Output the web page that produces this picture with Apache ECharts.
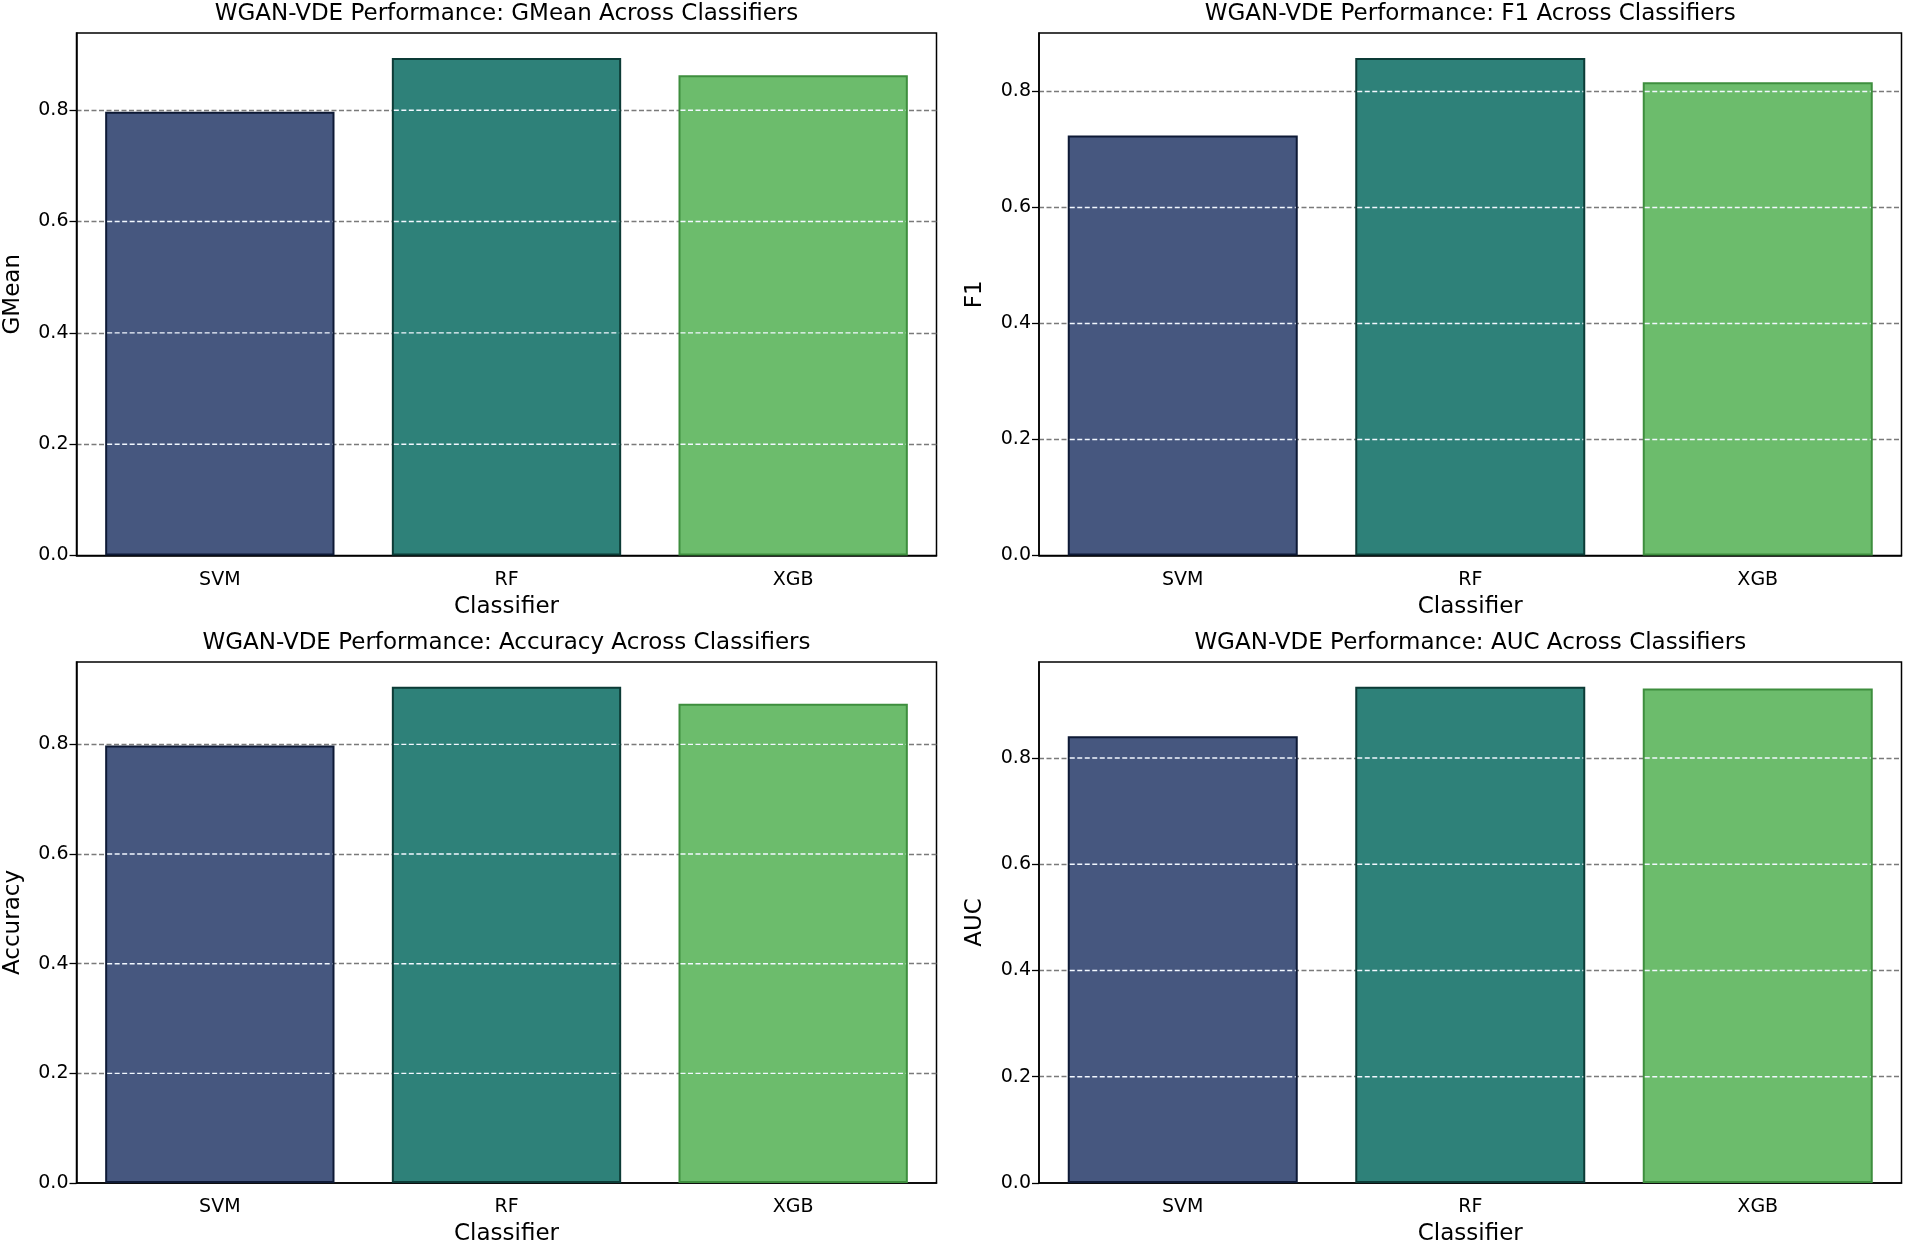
<!DOCTYPE html>
<html lang="en">
<head>
    <meta charset="UTF-8">
    <title>WGAN-VDE Performance</title>
    <style>
        html, body { margin: 0; padding: 0; background: #fff; }
        #box { width: 1905px; height: 1247px; }
    </style>
</head>
<body>
    <div id="box"></div>
    <script src="https://cdn.jsdelivr.net/npm/echarts@6/dist/echarts.min.js"></script>
    <script>
        // data
        var classifiers = ['SVM', 'RF', 'XGB'];
        var gmean = [0.797, 0.894, 0.863];
        var f1 = [0.724, 0.858, 0.816];
        var accuracy = [0.798, 0.905, 0.874];
        var auc = [0.841, 0.934, 0.931];
        var metricNames = ['GMean', 'F1', 'Accuracy', 'AUC'];
        var gridTicks = [0.2, 0.4, 0.6, 0.8];

        var fills = ['#46577f', '#2e8179', '#6cbc6c'];
        var edges = ['#0e1a36', '#0c3b36', '#3e8e3e'];
        var font = 'DejaVu Sans';

        // plot boxes (left, top, width, height)
        var boxes = [
            [76.5, 33, 860, 522.5],
            [1039, 33, 862.5, 522.5],
            [76.5, 662, 860, 522.5],
            [1039, 662, 862.5, 522.5]
        ];
        var allValues = [gmean, f1, accuracy, auc];

        var option = { animation: false, backgroundColor: '#fff', title: [], grid: [], xAxis: [], yAxis: [], series: [] };

        for (var i = 0; i < 4; i++) {
            var b = boxes[i];
            option.title.push({
                text: 'WGAN-VDE Performance: ' + metricNames[i] + ' Across Classifiers',
                left: b[0] + b[2] / 2,
                top: b[1] - 30,
                textAlign: 'center',
                padding: 0,
                textStyle: { fontFamily: font, fontSize: 23, fontWeight: 'normal', color: '#000' }
            });
            option.grid.push({
                left: b[0], top: b[1], width: b[2], height: b[3],
                show: true, borderColor: '#000', borderWidth: 1.5, backgroundColor: 'transparent'
            });
            option.xAxis.push({
                type: 'category',
                gridIndex: i,
                data: classifiers,
                name: 'Classifier',
                nameLocation: 'middle',
                nameGap: 40,
                nameTextStyle: { fontFamily: font, fontSize: 23, color: '#000' },
                axisLine: { lineStyle: { color: '#000', width: 1.5 } },
                axisTick: { alignWithLabel: true, length: 7, lineStyle: { color: '#000', width: 1.3 } },
                axisLabel: { fontFamily: font, fontSize: 19, color: '#000', margin: 15 },
                splitLine: { show: false }
            });
            option.yAxis.push({
                type: 'value',
                gridIndex: i,
                min: 0,
                max: function (v) { return v.max * 1.05; },
                interval: 0.2,
                name: metricNames[i],
                nameLocation: 'middle',
                nameGap: 52,
                nameTextStyle: { fontFamily: font, fontSize: 23, color: '#000' },
                axisLine: { show: true, lineStyle: { color: '#000', width: 1.5 } },
                axisTick: { show: true, length: 7, lineStyle: { color: '#000', width: 1.3 } },
                axisLabel: {
                    fontFamily: font, fontSize: 19, color: '#000', margin: 8,
                    showMaxLabel: false,
                    formatter: function (v) { return v.toFixed(1); }
                },
                splitLine: {
                    show: true, showMinLine: false, showMaxLine: false,
                    lineStyle: { color: '#7a7a7a', width: 1.3, type: [5, 2.5] }
                }
            });

            var vals = allValues[i];
            option.series.push({
                type: 'bar',
                xAxisIndex: i,
                yAxisIndex: i,
                barWidth: '80%',
                data: vals.map(function (v, k) {
                    return { value: v, itemStyle: { color: fills[k], borderColor: edges[k], borderWidth: 2 } };
                })
            });
            // light dashed grid lines that show over the bars
            option.series.push({
                type: 'custom',
                xAxisIndex: i,
                yAxisIndex: i,
                z: 5,
                silent: true,
                data: vals.map(function (v, k) { return [k, v]; }),
                renderItem: function (params, api) {
                    var idx = api.value(0), val = api.value(1);
                    var c = api.coord([idx, 0]);
                    var w = api.size([1, 0])[0] * 0.8;
                    var kids = [];
                    gridTicks.forEach(function (t) {
                        if (t < val) {
                            var y = api.coord([idx, t])[1];
                            kids.push({
                                type: 'line',
                                shape: { x1: c[0] - w / 2 + 2, y1: y, x2: c[0] + w / 2 - 2, y2: y },
                                style: { stroke: '#f2f8ff', lineWidth: 1.4, lineDash: [5, 2.5] }
                            });
                        }
                    });
                    return { type: 'group', children: kids };
                }
            });
        }

        var myChart = echarts.init(document.getElementById('box'));
        option && myChart.setOption(option);
    </script>
</body>
</html>
